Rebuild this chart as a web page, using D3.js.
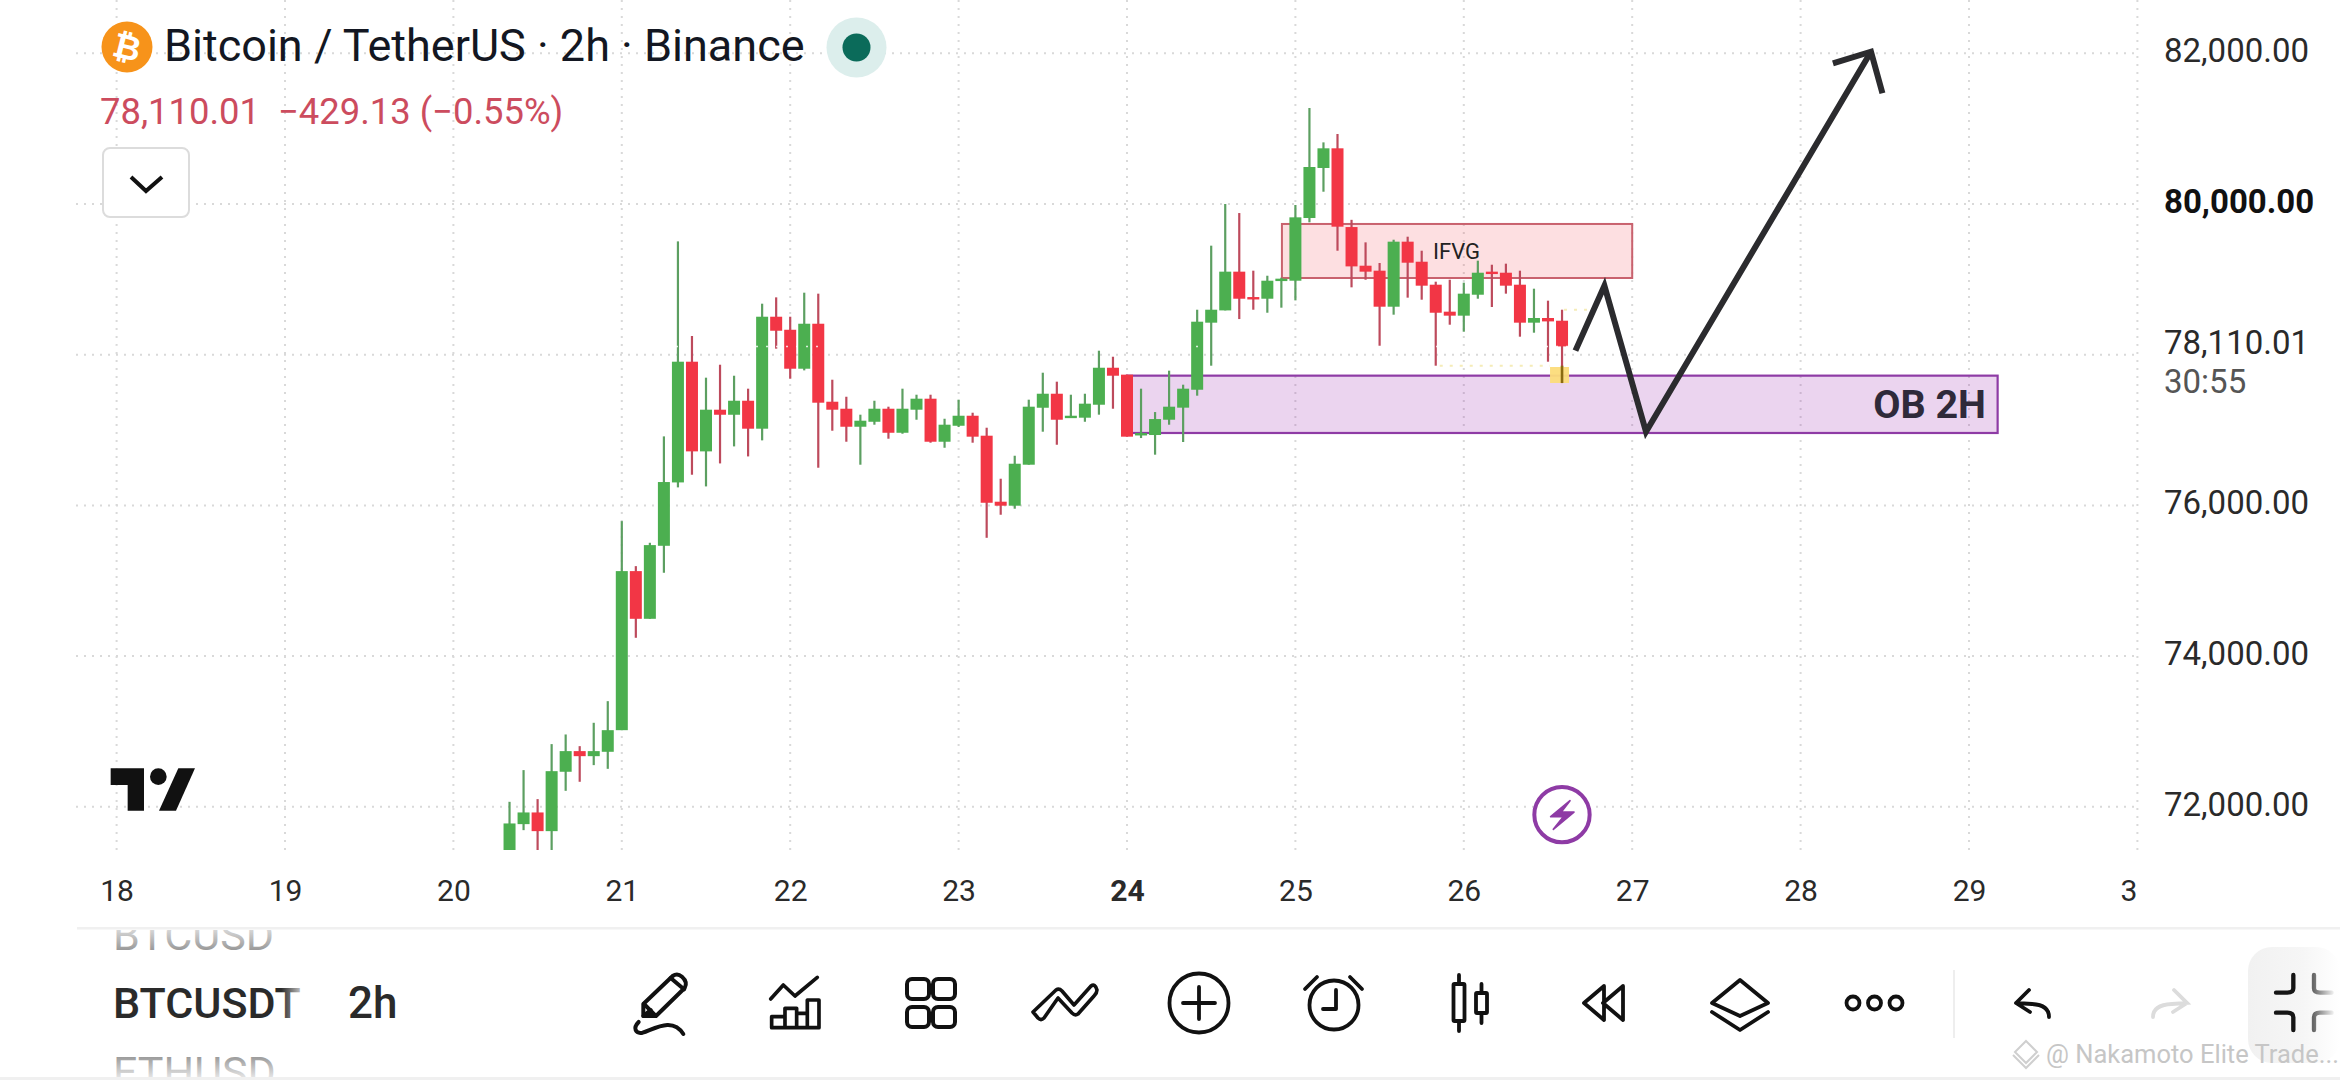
<!DOCTYPE html>
<html><head><meta charset="utf-8">
<script src="https://cdn.jsdelivr.net/npm/d3@7/dist/d3.min.js"></script>
<style>html,body{margin:0;padding:0;background:#fff;overflow:hidden}svg{display:block}text{font-family:Roboto,sans-serif}</style>
</head><body><svg id="c" width="2340" height="1080"></svg>
<script>
const opens=[71425,71770,71925,71677,72465,72739,72672,72730,73017,75128,74495,75464,76305,77907,76717,77270,77203,77389,77018,78504,78331,77814,78411,77376,77283,77044,77110,77283,76964,77270,77416,76845,77057,77190,76925,76049,75996,76540,77296,77482,77164,77164,77336,77827,77735,76934,76934,77137,77297,77535,78425,78588,79102,78765,78743,78982,78982,79814,80478,80739,79694,79181,79115,78637,79500,79234,78929,78571,78518,78796,79102,79088,78929,78425,78487,78451];
const highs=[72066,72487,72102,72832,72960,72805,73115,73402,75791,75194,75504,76916,79504,78248,77695,77867,77721,77549,78677,78761,78504,78823,78810,77668,77442,77204,77389,77310,77549,77469,77469,77150,77403,77230,77031,76354,76659,77403,77761,77642,77469,77482,78053,77973,77735,77549,77239,77788,77602,78597,79447,80000,79880,79115,79048,79022,79987,81274,80818,80929,79790,79491,79217,79526,79566,79380,78969,78995,78956,79248,79194,79208,79115,78876,78717,78597];
const lows=[71300,71690,71300,71300,72212,72332,72553,72504,73017,74243,74495,75106,76239,76407,76252,76557,76783,76650,76863,78080,77681,77792,76500,76991,76845,76540,77071,76885,76951,77137,76832,76765,77040,76832,75570,75876,75956,76540,76978,76805,77164,77110,77204,77283,76912,76894,76673,77071,76841,77456,77854,78588,78473,78597,78557,78624,78721,79757,80163,79380,78894,78995,78119,78531,78757,78730,77854,78398,78305,78743,78633,78810,78239,78292,77907,77624];
const closes=[71779,71925,71677,72473,72739,72672,72739,73017,75128,74495,75473,76310,77907,76717,77270,77203,77389,77018,78504,78318,77814,78411,77363,77270,77044,77124,77283,76964,77283,77416,76845,77071,77190,76912,76035,75996,76553,77310,77482,77137,77190,77350,77827,77721,76912,76960,77146,77310,77549,78438,78597,79102,78743,78743,78982,79009,79823,80491,80739,79699,79172,79102,78637,79500,79221,78916,78557,78518,78810,79088,79079,78916,78425,78487,78442,78110.01];
const firstCandleDay=20+4/12, candlesPerDay=12;

const dayTicks=[18,19,20,21,22,23,24,25,26,27,28,29,30];
const dayLabels=["18","19","20","21","22","23","24","25","26","27","28","29","3"];
const gridPrices=[72000,74000,76000,78000,80000,82000];
const axisPrices=[72000,74000,76000,80000,82000];
const lastPrice=78110.01;
const obZone={d0:24,d1:29.17,top:77722,bottom:76961};
const ifvgZone={d0:24.92,d1:27,top:79735,bottom:79018};
const pathDays=[26.663,26.835,27.082,28.418], pathPrices=[78054,78916,76978,82021];
const headDays=[28.192,28.418,28.486], headPrices=[81867,82021,81469];

const svg=d3.select("#c");
const x=d3.scaleLinear().domain([18,30]).range([116.6,2137.4]);
const y=d3.scaleLinear().domain([72000,82000]).range([806.8,53.3]);
const chartBottom=850;
const defs=svg.append("defs");
defs.append("clipPath").attr("id","plot").append("rect").attr("x",0).attr("y",0).attr("width",2140).attr("height",chartBottom);
function grad(id,stops,vert){const g=defs.append("linearGradient").attr("id",id).attr("x1",0).attr("y1",0).attr("x2",vert?0:1).attr("y2",vert?1:0);
 stops.forEach(s=>g.append("stop").attr("offset",s[0]).attr("stop-color",s[1]).attr("stop-opacity",s[2]));return g;}
grad("fadeT",[[0,"#dcdcdc",1],[1,"#8a8a8a",1]],true).attr("gradientUnits","userSpaceOnUse").attr("y1",928).attr("y2",955);
grad("fadeB",[[0,"#8a8a8a",1],[1,"#e6e6e6",1]],true).attr("gradientUnits","userSpaceOnUse").attr("y1",1052).attr("y2",1078);
grad("fadeR",[[0,"#2a2a2a",1],[.88,"#2a2a2a",1],[1,"#d8d8d8",1]],false).attr("gradientUnits","userSpaceOnUse").attr("x1",114).attr("x2",304);
grad("btnBg",[[0,"#f1f1f1",1],[.6,"#f6f6f6",1],[1,"#fff",1]],false);
grad("btnR2",[[0,"#666",1],[1,"#eee",1]],false).attr("gradientUnits","userSpaceOnUse").attr("x1",250).attr("x2",310);

svg.append("rect").attr("width",2340).attr("height",1080).attr("fill","#fff");

// grid
const grid=svg.append("g").attr("stroke","#d9d9d9").attr("stroke-width",2).attr("stroke-dasharray","2 6");
grid.selectAll(".h").data(gridPrices).join("line").attr("x1",76).attr("x2",x(30)).attr("y1",d=>y(d)).attr("y2",d=>y(d));
grid.selectAll(".v").data(dayTicks).join("line").attr("x1",d=>x(d)).attr("x2",d=>x(d)).attr("y1",0).attr("y2",chartBottom);

// zones
const zoneG=svg.append("g");
zoneG.append("rect").attr("x",x(ifvgZone.d0)).attr("width",x(ifvgZone.d1)-x(ifvgZone.d0)).attr("y",y(ifvgZone.top)).attr("height",y(ifvgZone.bottom)-y(ifvgZone.top))
 .attr("fill","#f23645").attr("fill-opacity",.16).attr("stroke","#c9626e").attr("stroke-width",2);
zoneG.append("rect").attr("x",x(obZone.d0)).attr("width",x(obZone.d1)-x(obZone.d0)).attr("y",y(obZone.top)).attr("height",y(obZone.bottom)-y(obZone.top))
 .attr("fill","#9c27b0").attr("fill-opacity",.2).attr("stroke","#8e3ba5").attr("stroke-width",2.2);

// candles
const candles=opens.map((o,i)=>({day:firstCandleDay+i/candlesPerDay,o,h:highs[i],l:lows[i],c:closes[i]}));
const cg=svg.append("g").attr("clip-path","url(#plot)");
const up=d=>d.c>=d.o;
cg.selectAll("line.w").data(candles).join("line").attr("class","w")
 .attr("x1",d=>x(d.day)).attr("x2",d=>x(d.day)).attr("y1",d=>y(d.h)).attr("y2",d=>y(d.l))
 .attr("stroke",d=>up(d)?"#5c9f61":"#bd4a5c").attr("stroke-width",2.2);
cg.selectAll("rect.b").data(candles).join("rect").attr("class","b")
 .attr("x",d=>x(d.day)-6).attr("width",12)
 .attr("y",d=>y(Math.max(d.o,d.c))).attr("height",d=>Math.max(2.4,Math.abs(y(d.o)-y(d.c))))
 .attr("fill",d=>up(d)?"#4caf50":"#f23645");

// last price dotted line, drawn white so it shows only across candles
svg.append("line").attr("x1",76).attr("x2",x(30)).attr("y1",y(lastPrice)).attr("y2",y(lastPrice)).attr("stroke","#fff").attr("stroke-opacity",.8).attr("stroke-width",1.5).attr("stroke-dasharray","2 8");

// yellow session high/low markers
const lastC=candles[candles.length-1];
svg.append("rect").attr("x",x(lastC.day)-12).attr("width",19).attr("y",367).attr("height",16).attr("fill","#fcdc7a").attr("opacity",.95);
svg.append("line").attr("x1",x(lastC.day)).attr("x2",x(lastC.day)).attr("y1",y(lows[66])).attr("y2",y(lastC.l)).attr("stroke","#8a6a10").attr("stroke-width",2.6);
const dots=svg.append("g").attr("stroke","#f5ecb8").attr("stroke-width",2).attr("stroke-dasharray","3 7");
dots.append("line").attr("x1",x(candles[66].day)+4).attr("x2",x(lastC.day)-12).attr("y1",y(lows[66])).attr("y2",y(lows[66]));
dots.append("line").attr("x1",x(lastC.day)+2).attr("x2",x(26.76)).attr("y1",y(highs[75])).attr("y2",y(highs[75]));

// projected path
const ln=d3.line().x(d=>x(d[0])).y(d=>y(d[1])).curve(d3.curveLinear);
svg.append("path").attr("d",ln(d3.zip(pathDays,pathPrices))).attr("fill","none").attr("stroke","#2b2b2e").attr("stroke-width",6).attr("stroke-linejoin","miter");
svg.append("path").attr("d",ln(d3.zip(headDays,headPrices))).attr("fill","none").attr("stroke","#2b2b2e").attr("stroke-width",6);

// zone labels
svg.append("text").attr("x",1433).attr("y",259).attr("font-size",22).attr("fill","#222").text("IFVG");
svg.append("text").attr("x",1986).attr("y",418).attr("text-anchor","end").attr("font-size",39.5).attr("font-weight",700).attr("fill","#2f2a3a").text("OB 2H");

// axes
const fmt=d3.format(",.2f");
const ay=d3.axisRight(y).tickValues(axisPrices).tickSize(0).tickPadding(0).tickFormat(fmt);
const gy=svg.append("g").attr("transform","translate(2164,0)").call(ay);
gy.select(".domain").remove();
gy.selectAll("text").attr("font-family","Roboto").attr("font-size",33).attr("fill","#2a2a2a").attr("dy",null).attr("dominant-baseline","auto").attr("y",8.5)
  .attr("font-weight",d=>d===80000?700:400).attr("fill",d=>d===80000?"#111":"#2a2a2a");
svg.append("text").attr("x",2164).attr("y",354).attr("font-size",33).attr("fill","#2a2a2a").text(fmt(lastPrice));
svg.append("text").attr("x",2164).attr("y",393).attr("font-size",33).attr("fill","#555").text("30:55");

const ax=d3.axisBottom(x).tickValues(dayTicks).tickSize(0).tickPadding(0).tickFormat((d,i)=>dayLabels[i]);
const gx=svg.append("g").attr("transform","translate(0,901)").call(ax);
gx.select(".domain").remove();
gx.selectAll("text").attr("font-family","Roboto").attr("font-size",30).attr("dy",null).attr("y",0).attr("fill","#2a2a2a")
  .attr("font-weight",d=>d===24?700:400).attr("dx",d=>d===30?-9:0);

// header
const hdr=svg.append("g");
hdr.append("circle").attr("cx",127).attr("cy",47).attr("r",25.5).attr("fill","#f7931a");
hdr.append("text").attr("x",127).attr("y",59).attr("text-anchor","middle").attr("font-size",34).attr("font-weight",700).attr("fill","#fff").attr("font-family","DejaVu Sans").attr("transform","rotate(14 127 47)").text("₿");
hdr.append("text").attr("x",164).attr("y",61).attr("font-size",45).attr("fill","#131722").text("Bitcoin / TetherUS · 2h · Binance");
hdr.append("circle").attr("cx",856.5).attr("cy",47.5).attr("r",30).attr("fill","#dceeec");
hdr.append("circle").attr("cx",856.5).attr("cy",47.5).attr("r",14).attr("fill","#0b6b5a");
hdr.append("text").attr("x",100).attr("y",124).attr("font-size",36.4).attr("fill","#cc4c5e").attr("xml:space","preserve").text("78,110.01  −429.13 (−0.55%)");
hdr.append("rect").attr("x",103).attr("y",148).attr("width",86).attr("height",69).attr("rx",7).attr("fill","#fff").attr("stroke","#dcdcdc").attr("stroke-width",2);
hdr.append("path").attr("d","M131 177L146 191L162 177").attr("fill","none").attr("stroke","#111").attr("stroke-width",4);

// TradingView logo
const lg=svg.append("g").attr("fill","#111").attr("transform","translate(90,750) scale(.3333)");
lg.append("path").attr("d","M62 55H162V182H113V105H62Z");
lg.append("circle").attr("cx",205).attr("cy",80).attr("r",25);
lg.append("path").attr("d","M265 55H315L258 182H207Z");

// lightning badge
const lb=svg.append("g").attr("transform","translate(1510,770) scale(.3333)");
lb.append("circle").attr("cx",156).attr("cy",134).attr("r",83).attr("fill","#fff").attr("stroke","#8e3ba5").attr("stroke-width",12);
lb.append("path").attr("d","M180 92L122 140L160 140L130 178L192 126L154 126Z").attr("fill","#8e3ba5").attr("stroke","#8e3ba5").attr("stroke-width",5).attr("stroke-linejoin","round");

// bottom toolbar
svg.append("rect").attr("x",77).attr("y",927).attr("width",2263).attr("height",2.5).attr("fill","#f0f0f0");
const bar=svg.append("g");
defs.append("clipPath").attr("id","tb").append("rect").attr("x",0).attr("y",930).attr("width",2340).attr("height",147);
const tg=bar.append("g").attr("clip-path","url(#tb)");
tg.append("text").attr("x",113).attr("y",950).attr("font-size",43).attr("fill","url(#fadeT)").text("BTCUSD");
tg.append("text").attr("x",113).attr("y",1018).attr("font-size",43).attr("font-weight",500).attr("fill","url(#fadeR)").text("BTCUSDT");
tg.append("text").attr("x",348).attr("y",1018).attr("font-size",44).attr("font-weight",500).attr("fill","#2a2a2a").text("2h");
tg.append("text").attr("x",113).attr("y",1087).attr("font-size",43).attr("fill","url(#fadeB)").text("ETHUSD");
svg.append("rect").attr("x",0).attr("y",1077).attr("width",2340).attr("height",3).attr("fill","#f0f0f0");

const ink=bar.append("g").attr("fill","none").attr("stroke","#111").attr("stroke-width",4).attr("stroke-linejoin","round").attr("stroke-linecap","round");
// pencil + scribble
const pen=ink.append("g").attr("transform","translate(620,960) scale(.3333)").attr("stroke-width",12);
pen.append("path").attr("d","M70 168V132L158 48Q172 38 186 50Q204 66 194 84L108 168Z");
pen.append("path").attr("d","M72 132L106 166M152 54L192 88");
pen.append("path").attr("d","M70 168L92 150V168Z").attr("fill","#111");
pen.append("path").attr("d","M56 186C38 204 46 222 68 218C104 206 158 170 190 222");
// indicators
const ind=ink.append("g").attr("transform","translate(620,960) scale(.3333)").attr("stroke-width",11);
ind.append("path").attr("d","M452 117L490 75L525 108L592 52");
ind.append("path").attr("d","M455 203V170H495V145H530V160H562V120H597V203Z M495 170V203 M530 160V203 M562 160V203");
// templates
[[906,978],[932,978],[906,1006],[932,1006]].forEach(p=>ink.append("rect").attr("x",p[0]+1).attr("y",p[1]+1).attr("width",22).attr("height",20).attr("rx",5));
// drawing ribbon
ink.append("path").attr("d","M1033 1012L1056 990Q1059 988 1062 991L1074 1005L1091 986Q1095 983 1097 990Q1097 993 1094 996L1078 1014Q1075 1016 1072 1013L1058 998L1044 1018Q1041 1021 1038 1018Z").attr("stroke-width",3.6);
// add
ink.append("circle").attr("cx",1199).attr("cy",1003).attr("r",29.5).attr("stroke-width",3.8);
ink.append("path").attr("d","M1199 987V1019M1183 1003H1215").attr("stroke-width",3.8);
// alarm
ink.append("circle").attr("cx",1334).attr("cy",1005).attr("r",24.5).attr("stroke-width",3.8);
ink.append("path").attr("d","M1336 990V1009H1323M1305 989L1317 977M1362 989L1350 977").attr("stroke-width",3.8);
// candles
ink.append("path").attr("d","M1459 975V1031M1481.5 984V1023").attr("stroke-width",3.8);
[[1453.5,984,37],[1476,993,20]].forEach(r=>ink.append("rect").attr("x",r[0]).attr("y",r[1]).attr("width",11).attr("height",r[2]).attr("rx",1).attr("fill","#fff").attr("stroke-width",3.8));
// replay
ink.append("path").attr("d","M1604 986L1584 1003L1604 1020ZM1623 986L1603 1003L1623 1020Z").attr("stroke-width",3.8);
// layers
ink.append("path").attr("d","M1740 980L1768 1003L1740 1016L1712 1003Z").attr("stroke-width",3.8);
ink.append("path").attr("d","M1712 1012L1740 1030L1768 1012").attr("stroke-width",3.8);
// more
[1853,1874.5,1896].forEach(c=>ink.append("circle").attr("cx",c).attr("cy",1003).attr("r",6.5).attr("stroke-width",3.8));
// separator
bar.append("line").attr("x1",1954).attr("x2",1954).attr("y1",970).attr("y2",1038).attr("stroke","#e8e8e8").attr("stroke-width",1.5);
// undo / redo
ink.append("path").attr("d","M2029 990L2016 1003L2032 1004Q2049 1005 2049 1017M2016 1003L2030 1012").attr("stroke-width",3.8);
bar.append("path").attr("d","M2174 990L2187 1003L2172 1004Q2153 1005 2153 1017M2187 1003L2173 1012").attr("fill","none").attr("stroke","#dcdcdc").attr("stroke-width",3.8).attr("stroke-linecap","round");
// collapse button
bar.append("rect").attr("x",2248).attr("y",947).attr("width",92).attr("height",116).attr("rx",24).attr("fill","url(#btnBg)");
const cl=bar.append("g").attr("fill","none").attr("stroke-linecap","round").attr("transform","translate(2230,930) scale(.3333)");
cl.append("path").attr("d","M190 135V175Q190 188 172 188H138M190 300V262Q190 248 172 248H138").attr("stroke","#151515").attr("stroke-width",13);
cl.append("path").attr("d","M252 135V175Q252 188 270 188H305M252 300V262Q252 248 270 248H305").attr("stroke","url(#btnR2)").attr("stroke-width",13);

// watermark
const wm=bar.append("g").attr("fill","none").attr("stroke","#cfcfcf").attr("stroke-width",2);
wm.append("path").attr("d","M2026 1041L2037 1052L2026 1063L2015 1052ZM2013 1055L2026 1068L2039 1055");
bar.append("text").attr("x",2046).attr("y",1063).attr("font-size",25.5).attr("fill","#c6c6c6").text("@ Nakamoto Elite Trade...");
</script></body></html>
